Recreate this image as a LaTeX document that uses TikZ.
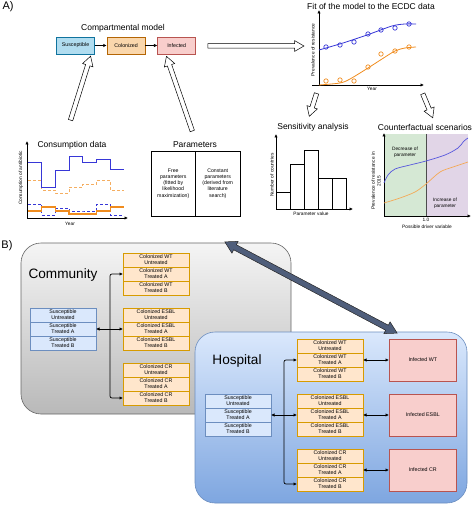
\documentclass[tikz,border=0pt]{standalone}
\usepackage{fontspec}
\setmainfont{Liberation Sans}
\usetikzlibrary{shapes.arrows,arrows.meta,positioning}

% drawio-like colours
\definecolor{susfill}{HTML}{B1DDF0}
\definecolor{susline}{HTML}{10739E}
\definecolor{colfill}{HTML}{FAD7AC}
\definecolor{colline}{HTML}{B46504}
\definecolor{inffill}{HTML}{F8CECC}
\definecolor{infline}{HTML}{B85450}
\definecolor{cellblue}{HTML}{DAE8FC}
\definecolor{cellblueline}{HTML}{6C8EBF}
\definecolor{cellorange}{HTML}{FFE6CC}
\definecolor{cellorangeline}{HTML}{D79B00}
\definecolor{hospbottom}{HTML}{7EA6E0}
\definecolor{linkfill}{HTML}{4F5E7B}
\definecolor{plotblue}{RGB}{55,55,215}
\definecolor{plotorange}{RGB}{240,140,30}
\definecolor{lowgreen}{HTML}{D5E8D4}
\definecolor{highpurple}{HTML}{E1D5E7}

% three stacked cells: name, north west corner, style, label
\newcommand\cellstack[4]{%
  \node[#3, anchor=north west] (#11) at #2 {#4\\Untreated};
  \node[#3, below=of #11] (#12) {#4\\Treated A};
  \node[#3, below=of #12] (#13) {#4\\Treated B};
}

\begin{document}
\begin{tikzpicture}[%
    x=1pt, y=-1pt,                    % layout is measured in pixels
    >={Latex[length=3.5pt,width=3.5pt]},
    node distance=0pt,                % stacked cells touch
    ]
% -------------------------------------------------
% Styles
\tikzset{
  title/.style={font=\fontsize{8.5}{10}\selectfont, inner sep=0pt},
  panel/.style={font=\fontsize{11}{13}\selectfont, inner sep=0pt},
  place/.style={font=\fontsize{13.6}{15}\selectfont, inner sep=0pt},
  axlabel/.style={font=\fontsize{4.8}{5.6}\selectfont, inner sep=0pt, align=center},
  axis/.style={->, line width=0.7pt},
  model/.style={draw, line width=0.6pt, minimum width=38pt, minimum height=17pt,
    inner sep=0pt, font=\fontsize{5.3}{6}\selectfont},
  cell/.style={draw, line width=0.6pt, minimum width=66pt, minimum height=14pt,
    inner sep=0pt, outer sep=0pt, align=center, font=\fontsize{5.3}{5.9}\selectfont},
  suscell/.style={cell, fill=cellblue, draw=cellblueline},
  colcell/.style={cell, fill=cellorange, draw=cellorangeline},
  infbox/.style={draw=infline, fill=inffill, line width=0.6pt, minimum width=67pt,
    minimum height=42pt, inner sep=0pt, font=\fontsize{5.3}{5.9}\selectfont},
  area/.style={rounded corners=20pt, line width=0.6pt, minimum width=270pt,
    minimum height=171pt},
  parbox/.style={draw, line width=0.6pt, minimum width=44.5pt, minimum height=65pt,
    inner sep=0pt, outer sep=0pt, align=center, font=\fontsize{5.2}{6.2}\selectfont},
  % the shaft is twice the inner ysep, the head adds the extend on each side
  hollow/.style={single arrow, draw, fill=white, line width=0.5pt,
    inner xsep=0pt, inner ysep=2pt, single arrow head extend=3.2pt,
    single arrow tip angle=60},
  link/.style={double arrow, draw=black!85, fill=linkfill, line width=0.5pt,
    inner xsep=0pt, inner ysep=2.6pt, double arrow head extend=3.8pt,
    double arrow tip angle=60},
  conn/.style={->, line width=0.7pt},
}
\useasboundingbox (0,0) rectangle (474,505);

% -------------------------------------------------
% A) compartmental model
\node[panel] at (8,7) {A)};
\node[title] at (123,28) {Compartmental model};
\node[model, fill=susfill, draw=susline] (sus) at (75.5,45.5) {Susceptible};
\node[model, fill=colfill, draw=colline, right=12pt of sus] (col) {Colonized};
\node[model, fill=inffill, draw=infline, right=12pt of col] (inf) {Infected};
\draw[conn] (sus) -- (col);
\draw[conn] (col) -- (inf);

% consumption data
\node[title] at (72,145) {Consumption data};
\draw[axis] (27,218) -- (27,141);
\draw[axis] (27,218) -- (128,218);
\node[axlabel, rotate=90] at (21,178) {Consumption of antibiotic};
\node[axlabel] at (70,224) {Year};
\draw[plotorange!70, densely dashed, line width=0.7pt] (28,180)
  foreach \y [count=\i] in {180,190,193,187,184,180,190} { -- (28+13.7*\i-13.7,\y) -- (28+13.7*\i,\y) };
\draw[plotblue, densely dashed, line width=0.7pt] (28,204)
  foreach \y [count=\i] in {204,215,208,211,211,204,215} { -- (28+13.7*\i-13.7,\y) -- (28+13.7*\i,\y) };
\draw[plotorange, line width=1.3pt] (28,211)
  foreach \y [count=\i] in {211,207,211,214,214,211,207} { -- (28+13.7*\i-13.7,\y) -- (28+13.7*\i,\y) };
\draw[plotblue, line width=1pt] (28,162)
  foreach \y [count=\i] in {162,187,170,156,162,159,169} { -- (28+13.7*\i-13.7,\y) -- (28+13.7*\i,\y) };

% parameters
\node[title] at (195,145) {Parameters};
\node[parbox] (free) at (173.25,183.5) {Free\\parameters\\(fitted by\\likelihood\\maximization)};
\node[parbox, right=of free] (const) {Constant\\parameters\\(derived from\\literature\\search)};

% fit of the model
\node[title] at (371,6) {Fit of the model to the ECDC data};
\draw[axis] (319,85) -- (319,10);
\draw[axis] (312,85) -- (424,85);
\node[axlabel, rotate=90] at (313,50) {Prevalence of resistance};
\node[axlabel] at (372,89) {Year};
\draw[plotblue, line width=0.8pt] plot[smooth] coordinates
  {(319,50) (343,43) (367,35) (392,26) (405,24) (416,24)};
\draw[plotorange, line width=0.8pt] plot[smooth] coordinates
  {(319,85) (340,83) (350,79) (368,68) (382,59) (395,51) (405,48) (416,47)};
\foreach \px/\py in {326/47,340/45,354/42,368/34,381/30,395/28,409/24}
  \draw[plotblue, line width=0.7pt] (\px,\py) circle[radius=2.2pt];
\foreach \px/\py in {326/81,340/80,354/81,368/67,381/54,395/51,409/47}
  \draw[plotorange, line width=0.7pt] (\px,\py) circle[radius=2.2pt];

% sensitivity analysis
\node[title] at (313,127) {Sensitivity analysis};
\foreach \h [count=\i] in {192,164,150,178,178}
  \draw[line width=0.6pt] (276+14*\i-14,209) rectangle (276+14*\i,\h);
\draw[axis] (276,209) -- (276,134);
\draw[axis] (276,209) -- (353,209);
\node[axlabel, rotate=90] at (272,175) {Number of countries};
\node[axlabel] at (311,214) {Parameter value};

% counterfactual scenarios
\node[title] at (425,127) {Counterfactual scenarios};
\fill[lowgreen] (384,134) rectangle (426,216);
\fill[highpurple] (426,134) rectangle (468,216);
\draw[black!70, line width=1pt] (426,134) -- (426,216);
\draw[axis] (384,216) -- (384,133);
\draw[axis] (384,216) -- (471,216);
\draw[plotblue!85, line width=0.7pt] plot[smooth] coordinates
  {(384,183) (388,175) (395,169) (410,165) (426,161) (445,155) (458,148) (464,141) (468,138)};
\draw[plotorange!75, line width=0.7pt] plot[smooth] coordinates
  {(384,203) (400,198) (415,192) (426,184) (440,172) (453,167) (468,162)};
\node[axlabel] at (405,152) {Decrease of\\parameter};
\node[axlabel] at (445,203.5) {Increase of\\parameter};
\node[axlabel] at (426,219.5) {1.0};
\node[axlabel] at (427,227) {Possible driver variable};
\node[axlabel, rotate=90] at (376,181) {Prevalence of resistance in\\2015};

% hollow flow arrows
\node[hollow, minimum height=67pt, rotate=72.6] (tosus) at (80,90) {};
\node[hollow, minimum height=79pt, rotate=109.1] (toinf) at (180,95.5) {};
\node[hollow, minimum height=96pt] (tofit) at (254,46) {};
\node[hollow, minimum height=24pt, rotate=-107.6] (tosens) at (313.5,103) {};
\node[hollow, minimum height=26pt, rotate=-67.4] (tocf) at (427,104) {};

% -------------------------------------------------
% B) community and hospital
\node[panel] at (7,246) {B)};
\node[area, top color=gray!8, bottom color=gray!55, draw=gray!80!black] (community)
  at (156,328.5) {};
\node[place] at (63,275) {Community};
\cellstack{csus}{(30,308)}{suscell}{Susceptible}
\cellstack{cwt}{(123,253)}{colcell}{Colonized WT}
\cellstack{cesbl}{(123,308)}{colcell}{Colonized ESBL}
\cellstack{ccr}{(123,363)}{colcell}{Colonized CR}
\coordinate (cj) at (110,329);
\draw[conn, <->] (csus2) -- (cesbl2);
\draw[conn, rounded corners=2pt] (cj) |- (cwt2.west);
\draw[conn, rounded corners=2pt] (cj) |- (ccr3.west);

\node[area, minimum width=272pt, top color=cellblue, bottom color=hospbottom,
  draw=cellblueline] (hospital) at (331,417.5) {};
\node[place] at (237,361) {Hospital};
\cellstack{hsus}{(205,394)}{suscell}{Susceptible}
\cellstack{hwt}{(297,339)}{colcell}{Colonized WT}
\cellstack{hesbl}{(297,394)}{colcell}{Colonized ESBL}
\cellstack{hcr}{(297,449)}{colcell}{Colonized CR}
\node[infbox, right=26pt of hwt2] (iwt) {Infected WT};
\node[infbox, right=26pt of hesbl2] (iesbl) {Infected ESBL};
\node[infbox, right=26pt of hcr2] (icr) {Infected CR};
\coordinate (hj) at (284,415);
\draw[conn, <->] (hsus2) -- (hesbl2);
\draw[conn, rounded corners=2pt] (hj) |- (hwt2.west);
\draw[conn, rounded corners=2pt] (hj) |- (hcr3.west);
\draw[conn, <->] (hwt2) -- (iwt);
\draw[conn, <->] (hesbl2) -- (iesbl);
\draw[conn, <->] (hcr2) -- (icr);

% exchange between the two settings
\node[link, minimum height=195pt, rotate=-27.9] (link) at (311,287.5) {};
% -------------------------------------------------
\end{tikzpicture}
\end{document}
